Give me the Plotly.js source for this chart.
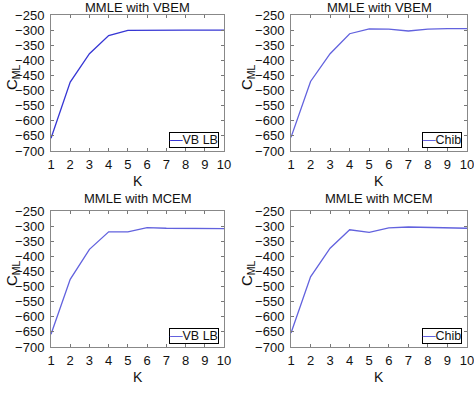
<!DOCTYPE html>
<html><head><meta charset="utf-8">
<script src="https://cdn.plot.ly/plotly-3.0.1.min.js"></script>
<style>html,body{margin:0;padding:0;background:#fff}#c{width:474px;height:398px}</style>
</head><body><div id="c"></div>
<script>
const K = [1,2,3,4,5,6,7,8,9,10];
const vbemVBLB = [-658,-472,-378,-318,-301,-300,-300,-300,-300,-300];
const vbemChib = [-655,-470,-378,-312,-296,-297,-303,-297,-295,-295];
const mcemVBLB = [-658,-476,-377,-319,-319,-305,-307,-307,-307,-308];
const mcemChib = [-654,-468,-373,-312,-321,-306,-303,-304,-306,-307];
const titles = ["MMLE with VBEM","MMLE with VBEM","MMLE with MCEM","MMLE with MCEM"];
const names = ["VB LB","Chib","VB LB","Chib"];
const yTicks = [-700,-650,-600,-550,-500,-450,-400,-350,-300,-250];

const W=474,H=398;
const xd = [[51/W,224/W],[291/W,467/W]];
const yd = [[1-151/H,1-15/H],[1-347/H,1-211/H]];
const series=[vbemVBLB,vbemChib,mcemVBLB,mcemChib];
const colors=["#3636d4","#6262de","#6262de","#6262de"];
const ff="Liberation Sans, Arial, sans-serif";
const font={family:ff,size:13,color:"#111"};
const data=[],layout={width:W,height:H,margin:{l:0,r:0,t:0,b:0},showlegend:false,
  paper_bgcolor:"#fff",plot_bgcolor:"#fff",font:font,annotations:[]};
for(let i=0;i<4;i++){
  const col=i%2,row=Math.floor(i/2);
  const s=i===0?"":String(i+1);
  data.push({x:K,y:series[i],type:"scatter",mode:"lines",name:names[i],
    line:{color:colors[i],width:1.3},xaxis:"x"+s,yaxis:"y"+s});
  const ax={domain:xd[col],range:[1,10],tickvals:K,ticks:"inside",ticklen:3,tickcolor:"#777",
    showline:true,linecolor:"#888",linewidth:1,mirror:"ticks",showgrid:false,zeroline:false,
    anchor:"y"+s,tickfont:font,ticklabeloverflow:"allow",ticklabelstandoff:1};
  const ay={domain:yd[row],range:[-700,-250],tickvals:yTicks,ticks:"inside",ticklen:3,tickcolor:"#777",
    showline:true,linecolor:"#888",linewidth:1,mirror:"ticks",showgrid:false,zeroline:false,
    anchor:"x"+s,tickfont:font,ticklabelstandoff:3,ticklabeloverflow:"allow"};
  layout["xaxis"+s]=ax; layout["yaxis"+s]=ay;
  layout.annotations.push({text:"<span style='color:"+colors[i]+"'>\u2014</span>"+names[i],
    xref:"paper",yref:"paper",x:xd[col][1]-5/W,y:yd[row][0]+3/H,xanchor:"right",yanchor:"bottom",
    showarrow:false,bgcolor:"#fff",bordercolor:"#000",borderwidth:1,borderpad:0,
    font:{family:ff,size:12.5,color:"#111"}});
  const cx=(xd[col][0]+xd[col][1])/2;
  layout.annotations.push({text:titles[i],xref:"paper",yref:"paper",x:cx,
    y:row===0?1-7/H:1-198/H,xanchor:"center",yanchor:"middle",showarrow:false,font:font});
  layout.annotations.push({text:"K",xref:"paper",yref:"paper",x:cx,
    y:row===0?1-181/H:1-377/H,xanchor:"center",yanchor:"middle",showarrow:false,font:{family:ff,size:14,color:"#111"}});
  layout.annotations.push({text:"C<sub>ML</sub>",xref:"paper",yref:"paper",
    x:(col===0?12:247)/W,y:(yd[row][0]+yd[row][1])/2+6/H,textangle:-90,
    xanchor:"center",yanchor:"middle",showarrow:false,font:{family:ff,size:15,color:"#111"}});
}
Plotly.newPlot("c",data,layout,{staticPlot:true});
</script></body></html>
